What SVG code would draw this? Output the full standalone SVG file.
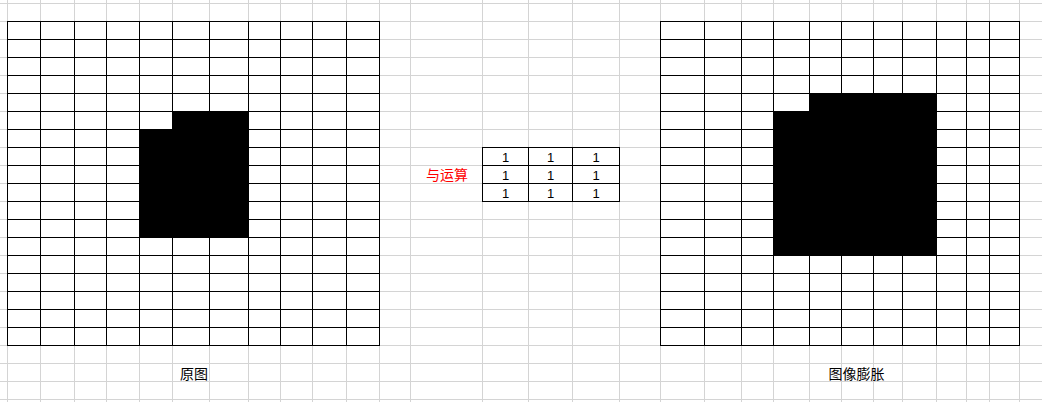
<svg xmlns="http://www.w3.org/2000/svg" width="1042" height="402" viewBox="0 0 1042 402">
<style>
.gray{fill:none;stroke:#d4d4d4;stroke-width:1}
.blk{fill:none;stroke:#000;stroke-width:1}
.fill{fill:#000}
.num{font-family:"Liberation Sans",Arial,sans-serif;font-size:13px;fill:#000;text-anchor:middle}
.cn{font-family:"Noto Sans CJK SC","Noto Sans",sans-serif;font-size:14px;text-anchor:middle;dominant-baseline:central}
</style>
<rect width="1042" height="402" fill="#fff"/>
<g id="sheet-grid">
<path class="gray" d="M0 3.5H1042M0 21.5H1042M0 39.5H1042M0 57.5H1042M0 75.5H1042M0 93.5H1042M0 111.5H1042M0 129.5H1042M0 147.5H1042M0 165.5H1042M0 183.5H1042M0 201.5H1042M0 219.5H1042M0 237.5H1042M0 255.5H1042M0 273.5H1042M0 291.5H1042M0 309.5H1042M0 327.5H1042M0 345.5H1042M0 363.5H1042M0 381.5H1042M0 399.5H1042"/>
<path class="gray" d="M7.5 0V402M40.5 0V402M74.5 0V402M106.5 0V402M139.5 0V402M172.5 0V402M209.5 0V402M248.5 0V402M280.5 0V402M312.5 0V402M346.5 0V402M379.5 0V402M410.5 0V402M482.5 0V402M528.5 0V402M572.5 0V402M619.5 0V402M660.5 0V402M704.5 0V402M741.5 0V402M773.5 0V402M809.5 0V402M841.5 0V402M873.5 0V402M902.5 0V402M936.5 0V402M966.5 0V402M989.5 0V402M1019.5 0V402"/>
</g>
<g id="original-image">
<rect class="fill" x="139" y="129" width="110" height="109"/>
<rect class="fill" x="172" y="111" width="77" height="19"/>
<path class="blk" d="M7 21.5H380M7 39.5H380M7 57.5H380M7 75.5H380M7 93.5H380M7 111.5H380M7 129.5H380M7 147.5H380M7 165.5H380M7 183.5H380M7 201.5H380M7 219.5H380M7 237.5H380M7 255.5H380M7 273.5H380M7 291.5H380M7 309.5H380M7 327.5H380M7 345.5H380"/>
<path class="blk" d="M7.5 21V346M40.5 21V346M74.5 21V346M106.5 21V346M139.5 21V346M172.5 21V346M209.5 21V346M248.5 21V346M280.5 21V346M312.5 21V346M346.5 21V346M379.5 21V346"/>
</g>
<g id="kernel">
<path class="blk" d="M482 147.5H620M482 165.5H620M482 183.5H620M482 201.5H620M482.5 147V202M528.5 147V202M572.5 147V202M619.5 147V202"/>
<text class="num" x="505.5" y="161.5">1</text>
<text class="num" x="550.5" y="161.5">1</text>
<text class="num" x="596" y="161.5">1</text>
<text class="num" x="505.5" y="179.5">1</text>
<text class="num" x="550.5" y="179.5">1</text>
<text class="num" x="596" y="179.5">1</text>
<text class="num" x="505.5" y="197.5">1</text>
<text class="num" x="550.5" y="197.5">1</text>
<text class="num" x="596" y="197.5">1</text>
</g>
<g id="and-op">
<text class="cn" x="447" y="173.5" fill="#ff0000">与运算</text>
</g>
<g id="dilated-image">
<rect class="fill" x="773" y="111" width="164" height="145"/>
<rect class="fill" x="809" y="93" width="128" height="19"/>
<path class="blk" d="M660 21.5H1020M660 39.5H1020M660 57.5H1020M660 75.5H1020M660 93.5H1020M660 111.5H1020M660 129.5H1020M660 147.5H1020M660 165.5H1020M660 183.5H1020M660 201.5H1020M660 219.5H1020M660 237.5H1020M660 255.5H1020M660 273.5H1020M660 291.5H1020M660 309.5H1020M660 327.5H1020M660 345.5H1020"/>
<path class="blk" d="M660.5 21V346M704.5 21V346M741.5 21V346M773.5 21V346M809.5 21V346M841.5 21V346M873.5 21V346M902.5 21V346M936.5 21V346M966.5 21V346M989.5 21V346M1019.5 21V346"/>
</g>
<g id="labels">
<text class="cn" x="194" y="373" fill="#000">原图</text>
<text class="cn" x="856.5" y="373" fill="#000">图像膨胀</text>
</g>
</svg>
